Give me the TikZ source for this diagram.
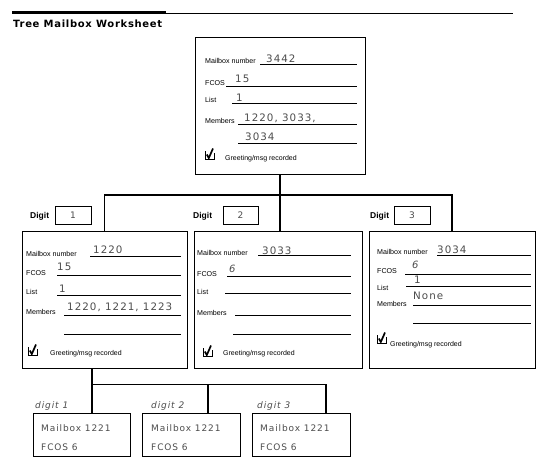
\documentclass[tikz,border=0pt]{standalone}
\usepackage{fontspec}
\setmainfont{Liberation Sans}
\newfontfamily\hwfont[LetterSpace=10]{DejaVu Sans}
\newfontfamily\titlefont[LetterSpace=7]{DejaVu Sans}
\begin{document}
\begin{tikzpicture}[x=1pt,y=-1pt,
  box/.style={draw, line width=0.8pt, inner sep=0pt, outer sep=0pt, anchor=north west},
  lbl/.style={font=\fontsize{7.1}{9}\selectfont, anchor=base west, inner sep=0pt},
  grt/.style={font=\fontsize{7}{8}\selectfont, anchor=base west, inner sep=0pt},
  hw/.style={font=\hwfont\fontsize{10.3}{12}\selectfont, text=black!70, anchor=base west, inner sep=0pt},
  hwsmall/.style={font=\hwfont\fontsize{9}{11}\selectfont, text=black!70, anchor=base west, inner sep=0pt},
  hwit/.style={font=\hwfont\itshape\fontsize{9}{11}\selectfont, text=black!70, anchor=base west, inner sep=0pt},
  diglbl/.style={font=\bfseries\fontsize{8.5}{10}\selectfont, anchor=base west, inner sep=0pt},
  uline/.style={line width=0.7pt},
  conn/.style={line width=1.8pt},
  thinconn/.style={line width=0.9pt},
  chk/.pic={\draw[line width=0.9pt] (0,1) -- (0,9) -- (9,9) -- (9,3);
            \draw[line width=1.7pt] (1.8,4.5) -- (3.8,8) -- (8,-1.5);}
]
\useasboundingbox (0,0) rectangle (546,464);
% top rule and title
\draw[line width=2.2pt] (12,12.5) -- (166,12.5);
\draw[line width=0.8pt] (166,13) -- (513,13);
\node[font=\titlefont\bfseries\fontsize{10}{12}\selectfont, anchor=base west, inner sep=0pt] (title) at (13,27.5) {Tree Mailbox Worksheet};

% main boxes
\node[box, minimum width=170pt, minimum height=137pt] (top) at (195,37) {};
\node[box, minimum width=165pt, minimum height=137pt] (b1) at (22,231) {};
\node[box, minimum width=168pt, minimum height=137pt] (b2) at (194,231) {};
\node[box, minimum width=166pt, minimum height=137pt] (b3) at (369,231) {};

% digit labels and boxes
\node[diglbl] (dl1) at (30,218) {Digit};
\node[box, minimum width=36pt, minimum height=18pt] (d1) at (55,206) {};
\node[hwsmall, anchor=center] (d1t) at (d1.center) {1};
\node[diglbl] (dl2) at (193,218) {Digit};
\node[box, minimum width=35pt, minimum height=18pt] (d2) at (223,206) {};
\node[hwsmall, anchor=center] (d2t) at (d2.center) {2};
\node[diglbl] (dl3) at (370,218) {Digit};
\node[box, minimum width=36pt, minimum height=18pt] (d3) at (394,206) {};
\node[hwsmall, anchor=center] (d3t) at (d3.center) {3};

% connectors top -> level 2
\coordinate (hub) at (top.south |- 0,195);
\draw[conn] (top.south) -- (hub);
\draw[conn] (b1.north) |- (hub) -| (b3.north);
\draw[conn] (hub) -- (hub |- b2.north);

% bottom boxes
\node[box, minimum width=97pt, minimum height=43pt] (s1) at (33,413) {};
\node[box, minimum width=98pt, minimum height=43pt] (s2) at (142,413) {};
\node[box, minimum width=98pt, minimum height=43pt] (s3) at (252,413) {};
\coordinate (j1) at (92,384);
\coordinate (j2) at (208,384);
\coordinate (j3) at (326,384);
\draw[thinconn] (j1) -- (j3);
\draw[conn] (b1.south -| j1) -- (j1 |- s1.north);
\draw[conn] (j2) -- (j2 |- s2.north);
\draw[conn] (j3) -- (j3 |- s3.north);

\node[hwit] (g1) at (35,408) {digit 1};
\node[hwit] (g2) at (151,408) {digit 2};
\node[hwit] (g3) at (257,408) {digit 3};
\node[hwsmall] (m1) at (41,431) {Mailbox 1221};
\node[hwsmall] (f1) at (41,450) {FCOS 6};
\node[hwsmall] (m2) at (151,431) {Mailbox 1221};
\node[hwsmall] (f2) at (151,450) {FCOS 6};
\node[hwsmall] (m3) at (260,431) {Mailbox 1221};
\node[hwsmall] (f3) at (260,450) {FCOS 6};

% ---- top box fields
\node[lbl] (t-mn) at (205,63.5) {Mailbox number};
\node[lbl] (t-fc) at (205,85.5) {FCOS};
\node[lbl] (t-li) at (205,102.5) {List};
\node[lbl] (t-me) at (205,123.5) {Members};
\draw[uline] (260,64) -- (357,64);
\draw[uline] (226,86) -- (357,86);
\draw[uline] (232,103) -- (357,103);
\draw[uline] (238,124) -- (357,124);
\draw[uline] (238,143) -- (357,143);
\node[hw] (t-v1) at (266,62) {3442};
\node[hw] (t-v2) at (235,82) {15};
\node[hw] (t-v3) at (236,101) {1};
\node[hw] (t-v4) at (244,121) {1220, 3033,};
\node[hw] (t-v5) at (245,140) {3034};
\pic at (205,150) {chk};
\node[grt] (t-gr) at (225,160) {Greeting/msg recorded};

% ---- box 1 fields
\node[lbl] (a-mn) at (26,256) {Mailbox number};
\node[lbl] (a-fc) at (26,275) {FCOS};
\node[lbl] (a-li) at (26,294) {List};
\node[lbl] (a-me) at (26,314) {Members};
\draw[uline] (90,256) -- (181,256);
\draw[uline] (57,275) -- (181,275);
\draw[uline] (57,295) -- (181,295);
\draw[uline] (64,315) -- (181,315);
\draw[uline] (64,334) -- (181,334);
\node[hw] (a-v1) at (93,253) {1220};
\node[hw] (a-v2) at (57,270) {15};
\node[hw] (a-v3) at (59,292) {1};
\node[hw] (a-v4) at (67,310) {1220, 1221, 1223};
\pic at (28,346) {chk};
\node[grt] (a-gr) at (50,355) {Greeting/msg recorded};

% ---- box 2 fields
\node[lbl] (b-mn) at (197,255) {Mailbox number};
\node[lbl] (b-fc) at (197,276) {FCOS};
\node[lbl] (b-li) at (197,294) {List};
\node[lbl] (b-me) at (197,315) {Members};
\draw[uline] (258,255.5) -- (351,255.5);
\draw[uline] (227,276) -- (351,276);
\draw[uline] (225,293) -- (351,293);
\draw[uline] (235,315) -- (351,315);
\draw[uline] (233,334) -- (351,334);
\node[hw] (b-v1) at (262,254) {3033};
\node[hw, font=\hwfont\itshape\fontsize{10}{12}\selectfont] (b-v2) at (229,272) {6};
\pic at (203,347) {chk};
\node[grt] (b-gr) at (223,355) {Greeting/msg recorded};

% ---- box 3 fields
\node[lbl] (c-mn) at (377,254) {Mailbox number};
\node[lbl] (c-fc) at (377,273) {FCOS};
\node[lbl] (c-li) at (377,290) {List};
\node[lbl] (c-me) at (377,306) {Members};
\draw[uline] (437,255) -- (531,255);
\draw[uline] (405,274) -- (531,274);
\draw[uline] (406,286) -- (531,286);
\draw[uline] (413,305) -- (531,305);
\draw[uline] (413,323) -- (531,323);
\node[hw] (c-v1) at (437,253) {3034};
\node[hw, font=\hwfont\itshape\fontsize{10}{12}\selectfont] (c-v2) at (412,268) {6};
\node[hw] (c-v3) at (414,283) {1};
\node[hw] (c-v4) at (413,299) {None};
\pic at (377,334) {chk};
\node[grt] (c-gr) at (390,346) {Greeting/msg recorded};
\end{tikzpicture}
\end{document}
